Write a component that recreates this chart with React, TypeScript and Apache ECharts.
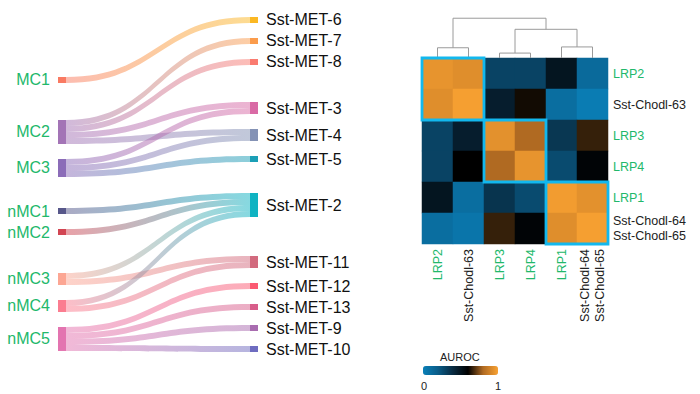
import React, { useEffect, useRef } from 'react';
import * as echarts from 'echarts';

// ---------- Sankey data ----------
const leftNodes = ['MC1', 'MC2', 'MC3', 'nMC1', 'nMC2', 'nMC3', 'nMC4', 'nMC5'];
const leftColors = ['#f97a62', '#a374b6', '#8b6cb8', '#57578a', '#d24552', '#fca693', '#fb7d90', '#e374b0'];
const rightNodes = ['Sst-MET-6', 'Sst-MET-7', 'Sst-MET-8', 'Sst-MET-3', 'Sst-MET-4', 'Sst-MET-5', 'Sst-MET-2',
  'Sst-MET-11', 'Sst-MET-12', 'Sst-MET-13', 'Sst-MET-9', 'Sst-MET-10'];
const rightColors = ['#fbb824', '#fb9c4c', '#fa7b70', '#d96aa5', '#8492b5', '#1b9fb6', '#0fb3c2',
  '#d26a7e', '#fb5a72', '#d85d8a', '#a96cb0', '#6e6cc0'];
const flowSources = ['MC1', 'MC2', 'MC2', 'MC2', 'MC2', 'MC3', 'MC3', 'MC3', 'nMC1', 'nMC2', 'nMC3', 'nMC3',
  'nMC4', 'nMC4', 'nMC5', 'nMC5', 'nMC5', 'nMC5'];
const flowTargets = ['Sst-MET-6', 'Sst-MET-7', 'Sst-MET-8', 'Sst-MET-3', 'Sst-MET-4', 'Sst-MET-3', 'Sst-MET-4',
  'Sst-MET-5', 'Sst-MET-2', 'Sst-MET-2', 'Sst-MET-2', 'Sst-MET-11', 'Sst-MET-2', 'Sst-MET-11', 'Sst-MET-12',
  'Sst-MET-13', 'Sst-MET-9', 'Sst-MET-10'];
const flowValues = [1, 1, 1, 1, 1, 1, 1, 1, 1, 1, 1, 1, 1, 1, 1, 1, 1, 1];
// invisible spacer blocks (layout only) inserted before these nodes
const leftSpacers: Record<string, number> = { MC1: 7.5, MC2: 1.17, nMC1: 0.17, nMC3: 1.33 };
const rightSpacers: Record<string, number> = { 'Sst-MET-3': 1.17, 'Sst-MET-2': 0.17, 'Sst-MET-11': 1.5 };

// ---------- Heatmap data ----------
const colLabels = ['LRP2', 'Sst-Chodl-63', 'LRP3', 'LRP4', 'LRP1', 'Sst-Chodl-64\nSst-Chodl-65'];
const rowLabels = ['LRP2', 'Sst-Chodl-63', 'LRP3', 'LRP4', 'LRP1', 'Sst-Chodl-64\nSst-Chodl-65'];
const auroc = [
  [0.95, 0.93, 0.30, 0.30, 0.50, 0.12],
  [0.93, 0.99, 0.46, 0.62, 0.10, 0.02],
  [0.30, 0.46, 0.94, 0.80, 0.35, 0.66],
  [0.30, 0.60, 0.80, 0.95, 0.27, 0.58],
  [0.50, 0.10, 0.36, 0.27, 0.98, 0.94],
  [0.10, 0.06, 0.66, 0.58, 0.93, 0.99],
];
const clusters = [[0, 1], [2, 3], [4, 5]];
// dendrogram merges: [xLeft, yLeft, xRight, yRight, height]
const merges = [
  [0.5, 0, 1.5, 0, 0.25],
  [2.5, 0, 3.5, 0, 0.12],
  [4.5, 0, 5.5, 0, 0.27],
  [3.0, 0.12, 5.0, 0.27, 0.70],
  [1.0, 0.25, 4.0, 0.70, 0.97],
];
const colorStops = ['#0a80b8', '#0a5c88', '#082a40', '#000000', '#b06a22', '#f9a232'];

const FONT = 'Liberation Sans, Arial, Helvetica, sans-serif';
const GREEN = '#22b86b';

export default function App() {
  const ref = useRef<HTMLDivElement>(null);
  useEffect(() => {
    if (!ref.current) return;
    const chart = echarts.init(ref.current, null, { renderer: 'svg' });

    const nodes: any[] = [];
    leftNodes.forEach((n, i) => {
      if (leftSpacers[n] != null) {
        nodes.push({ name: '__gapL' + i, depth: 0, value: leftSpacers[n], itemStyle: { color: 'rgba(0,0,0,0)' }, label: { show: false } });
      }
      nodes.push({ name: n, depth: 0, itemStyle: { color: leftColors[i] }, label: { position: 'left', color: GREEN } });
    });
    rightNodes.forEach((n, i) => {
      if (rightSpacers[n] != null) {
        nodes.push({ name: '__gapR' + i, depth: 1, value: rightSpacers[n], itemStyle: { color: 'rgba(0,0,0,0)' }, label: { show: false } });
      }
      nodes.push({ name: n, depth: 1, itemStyle: { color: rightColors[i] }, label: { position: 'right', color: '#111' } });
    });
    const links = flowSources.map((s, i) => ({ source: s, target: flowTargets[i], value: flowValues[i] }));

    const heat: number[][] = [];
    auroc.forEach((row, r) => row.forEach((v, c) => heat.push([c, r, v])));

    const labelColor = (v: string) => (String(v).startsWith('LRP') ? GREEN : '#222');

    chart.setOption({
      animation: false,
      backgroundColor: '#fff',
      textStyle: { fontFamily: FONT },
      grid: [
        { left: 422, top: 58, width: 186, height: 186 },
        { left: 422, top: 17, width: 186, height: 41 },
      ],
      xAxis: [
        {
          type: 'category', data: colLabels, gridIndex: 0, position: 'bottom',
          axisLine: { show: false }, axisTick: { show: false }, splitLine: { show: false },
          axisLabel: { rotate: 90, margin: 5, fontSize: 12.5, lineHeight: 15, fontFamily: FONT, color: labelColor },
        },
        { type: 'value', gridIndex: 1, min: 0, max: 6, show: false },
      ],
      yAxis: [
        {
          type: 'category', data: rowLabels, gridIndex: 0, inverse: true, position: 'right',
          axisLine: { show: false }, axisTick: { show: false }, splitLine: { show: false },
          axisLabel: { margin: 5, fontSize: 12.5, lineHeight: 15, fontFamily: FONT, color: labelColor },
        },
        { type: 'value', gridIndex: 1, min: 0, max: 1, show: false },
      ],
      visualMap: {
        type: 'continuous', seriesIndex: 1, min: 0, max: 1, orient: 'horizontal',
        left: 423, top: 366, itemWidth: 9, itemHeight: 75, padding: 0, calculable: false,
        inRange: { color: colorStops },
      },
      graphic: [
        { type: 'text', left: 440, top: 351, style: { text: 'AUROC', fontSize: 11, fill: '#222', fontFamily: FONT } },
        { type: 'text', left: 421, top: 380, style: { text: '0', fontSize: 11, fill: '#222', fontFamily: FONT } },
        { type: 'text', left: 495, top: 380, style: { text: '1', fontSize: 11, fill: '#222', fontFamily: FONT } },
      ],
      series: [
        {
          type: 'sankey',
          left: 58, top: 17, width: 200, height: 335,
          nodeWidth: 8, nodeGap: 15, layoutIterations: 0, nodeAlign: 'left',
          draggable: false,
          emphasis: { disabled: true },
          data: nodes,
          links,
          lineStyle: { color: 'gradient', opacity: 0.5, curveness: 0.5 },
          label: { fontSize: 16, fontFamily: FONT, distance: 8 },
        },
        {
          type: 'heatmap', xAxisIndex: 0, yAxisIndex: 0, data: heat,
          itemStyle: { borderWidth: 0 },
          emphasis: { disabled: true },
        },
        {
          type: 'custom', xAxisIndex: 0, yAxisIndex: 0, z: 5, silent: true,
          data: clusters,
          renderItem: (params: any, api: any) => {
            const s = api.value(0);
            const e = api.value(1);
            const p = api.coord([s, s]);
            const size = api.size([1, 1]);
            const n = e - s + 1;
            return {
              type: 'rect',
              shape: { x: p[0] - size[0] / 2, y: p[1] - size[1] / 2, width: size[0] * n, height: size[1] * n },
              style: { fill: 'none', stroke: '#12b8ee', lineWidth: 2.8 },
            };
          },
        },
        {
          type: 'custom', xAxisIndex: 1, yAxisIndex: 1, silent: true,
          data: merges,
          renderItem: (params: any, api: any) => {
            const x1 = api.value(0), y1 = api.value(1), x2 = api.value(2), y2 = api.value(3), h = api.value(4);
            return {
              type: 'polyline',
              shape: { points: [api.coord([x1, y1]), api.coord([x1, h]), api.coord([x2, h]), api.coord([x2, y2])] },
              style: { fill: 'none', stroke: '#9a9a9a', lineWidth: 1 },
            };
          },
        },
      ],
    });
    return () => chart.dispose();
  }, []);
  return <div ref={ref} style={{ position: 'fixed', left: 0, top: 0, width: 700, height: 394, background: '#fff' }} />;
}
